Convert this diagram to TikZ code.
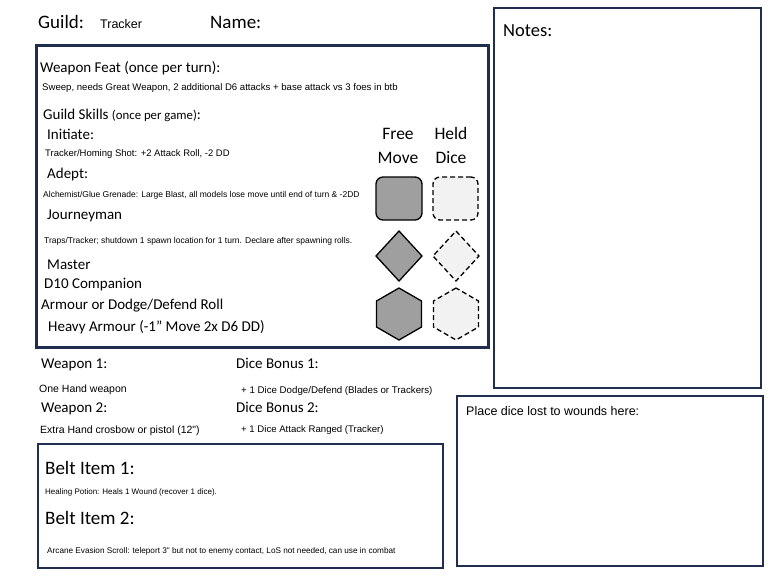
\documentclass[tikz,border=0pt]{standalone}
\usepackage{fontspec}
\setmainfont{Carlito}
\newfontfamily\arial{Liberation Sans}
\usetikzlibrary{shapes.geometric}
\definecolor{navy}{HTML}{1F2D4F}
\begin{document}
\begin{tikzpicture}[x=1pt,y=-1pt,
  hd/.style={anchor=base west,inner sep=0pt,font=\fontsize{15}{16}\selectfont},
  sm/.style={anchor=base west,inner sep=0pt,font=\arial\fontsize{9.4}{10}\selectfont},
  xs/.style={anchor=base west,inner sep=0pt,font=\arial\fontsize{8.5}{9}\selectfont},
  big/.style={anchor=base west,inner sep=0pt,font=\fontsize{19}{21}\selectfont},
  solidshape/.style={draw=black,line width=1.3pt,fill=gray!75},
  dashshape/.style={draw=black,line width=1.3pt,dashed,dash pattern=on 5pt off 3pt,fill=gray!10}]
\useasboundingbox (0,0) rectangle (768,576);
\fill[white] (0,0) rectangle (768,576);
\draw[navy,line width=3pt] (36,45) rectangle (488,347);
\draw[navy,line width=1.2pt] (494,8) rectangle (761,388);
\draw[navy,line width=1.2pt] (457,396) rectangle (763,566);
\draw[navy,line width=1.5pt] (38,444) rectangle (443,568);
\node[hd,font=\fontsize{19}{21}\selectfont] (guild) at (38,28) {Guild:};
\node[sm,font=\arial\fontsize{12.5}{14}\selectfont] (tr) at (100,28) {Tracker};
\node[hd,font=\fontsize{19}{21}\selectfont] (name) at (210,28) {Name:};
\node[hd,font=\fontsize{18.5}{20}\selectfont] (notes) at (503,36) {Notes:};
\node[sm,font=\arial\fontsize{12.5}{14}\selectfont] (lost) at (466,415) {Place dice lost to wounds here:};
\node[hd] (wf) at (40,72) {Weapon Feat (once per turn):};
\node[sm,font=\arial\fontsize{9.6}{10}\selectfont] (sw) at (42,90) {Sweep, needs Great Weapon, 2 additional D6 attacks + base attack vs 3 foes in btb};
\node[hd] (gs) at (43,119) {Guild Skills {\fontsize{12.8}{14}\selectfont(once per game)}:};
\node[hd] (ini) at (47,139) {Initiate:};
\node[sm,font=\arial\fontsize{9.5}{10}\selectfont] (ini2) at (45,156) {Tracker/Homing Shot: +2 Attack Roll, -2 DD};
\node[hd] (ad) at (47,178) {Adept:};
\node[xs] (ad2) at (43,197) {Alchemist/Glue Grenade: Large Blast, all models lose move until end of turn \& -2DD};
\node[hd] (jo) at (47,219) {Journeyman};
\node[xs] (jo2) at (44,243) {Traps/Tracker; shutdown 1 spawn location for 1 turn. Declare after spawning rolls.};
\node[hd] (ma) at (47,269) {Master};
\node[hd] (ma2) at (44,288) {D10 Companion};
\node[hd] (ar) at (41,309) {Armour or Dodge/Defend Roll};
\node[hd] (ar2) at (48,331) {Heavy Armour (-1" Move 2x D6 DD)};
\node[hd,anchor=base,font=\fontsize{17.5}{18}\selectfont] (fm1) at (398,139) {Free};
\node[hd,anchor=base,font=\fontsize{17.5}{18}\selectfont] (fm2) at (398,163) {Move};
\node[hd,anchor=base,font=\fontsize{17.5}{18}\selectfont] (hd1) at (451,139) {Held};
\node[hd,anchor=base,font=\fontsize{17.5}{18}\selectfont] (hd2) at (451,163) {Dice};
\node[solidshape,rounded corners=7pt,minimum width=46pt,minimum height=43pt] (s1) at (399,198.5) {};
\node[dashshape,rounded corners=7pt,minimum width=45pt,minimum height=43pt] (s2) at (455.5,198.5) {};
\draw[solidshape] (399,231)--(422,256)--(399,281)--(376,256)--cycle;
\draw[dashshape] (456,231)--(479,256)--(456,281)--(433,256)--cycle;
\node[solidshape,regular polygon,regular polygon sides=6,shape border rotate=30,minimum size=52pt,inner sep=0pt] (h1) at (399,314) {};
\node[dashshape,regular polygon,regular polygon sides=6,shape border rotate=30,minimum size=52pt,inner sep=0pt] (h2) at (456,314) {};
\node[hd] (w1) at (41,368) {Weapon 1:};
\node[hd] (db1) at (236,368) {Dice Bonus 1:};
\node[sm,font=\arial\fontsize{10.5}{11}\selectfont] (w1t) at (39,392) {One Hand weapon};
\node[sm,font=\arial\fontsize{9.7}{10}\selectfont] (db1t) at (241,393) {+ 1 Dice Dodge/Defend (Blades or Trackers)};
\node[hd] (w2) at (41,412) {Weapon 2:};
\node[hd] (db2) at (236,412) {Dice Bonus 2:};
\node[sm,font=\arial\fontsize{10.5}{11}\selectfont] (w2t) at (40,433) {Extra Hand crosbow or pistol (12")};
\node[sm,font=\arial\fontsize{9.6}{10}\selectfont] (db2t) at (241,432) {+ 1 Dice Attack Ranged (Tracker)};
\node[big] (b1) at (45,474) {Belt Item 1:};
\node[xs,font=\arial\fontsize{8}{9}\selectfont] (b1t) at (45,494) {Healing Potion: Heals 1 Wound (recover 1 dice).};
\node[big] (b2) at (45,524) {Belt Item 2:};
\node[xs,font=\arial\fontsize{8.2}{9}\selectfont] (b2t) at (47,553) {Arcane Evasion Scroll: teleport 3" but not to enemy contact, LoS not needed, can use in combat};
\end{tikzpicture}
\end{document}
